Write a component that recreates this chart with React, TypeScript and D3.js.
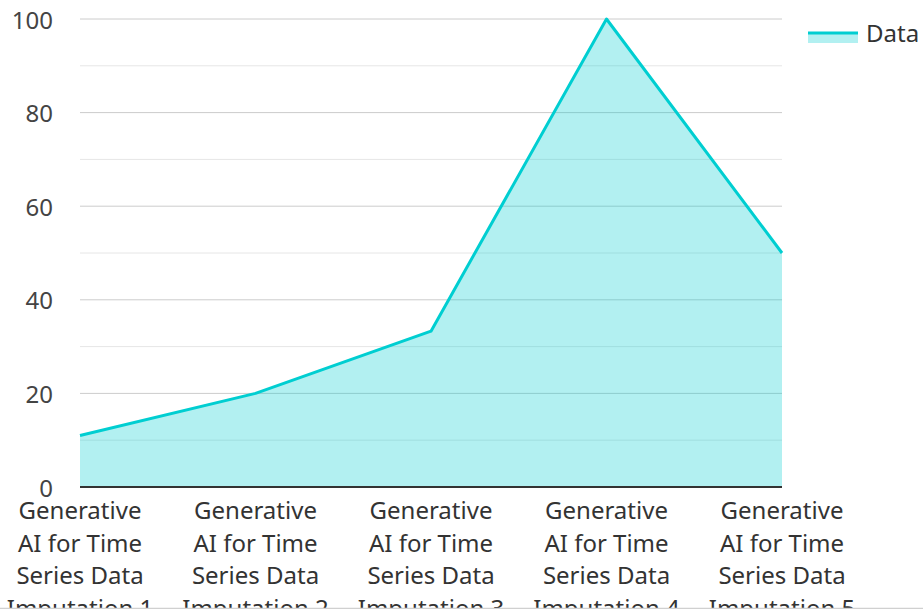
import React from "react";
import * as d3 from "d3";

const categories = [
  "Generative AI for Time Series Data Imputation 1",
  "Generative AI for Time Series Data Imputation 2",
  "Generative AI for Time Series Data Imputation 3",
  "Generative AI for Time Series Data Imputation 4",
  "Generative AI for Time Series Data Imputation 5",
];
const labelLines = [
  ["Generative", "AI for Time", "Series Data", "Imputation 1"],
  ["Generative", "AI for Time", "Series Data", "Imputation 2"],
  ["Generative", "AI for Time", "Series Data", "Imputation 3"],
  ["Generative", "AI for Time", "Series Data", "Imputation 4"],
  ["Generative", "AI for Time", "Series Data", "Imputation 5"],
];
const values = [11, 20, 33.3, 100, 50];
const majorTicks = [0, 20, 40, 60, 80, 100];
const minorTicks = [10, 30, 50, 70, 90];
const seriesName = "Data";

const W = 923;
const H = 609;
const left = 80;
const right = 782;
const top = 19;
const bottom = 487;
const color = "#00CED1";
const font = "'Noto Sans', 'Open Sans', sans-serif";

export default function App() {
  const x = d3.scalePoint<number>().domain(d3.range(categories.length)).range([left, right]);
  const y = d3.scaleLinear().domain([0, 100]).range([bottom, top]);
  const line = d3.line<number>().x((_, i) => x(i)!).y((d) => y(d));
  const area = d3.area<number>().x((_, i) => x(i)!).y0(y(0)).y1((d) => y(d));
  return (
    <svg
      width={W}
      height={H}
      style={{ position: "absolute", left: 0, top: 0, overflow: "hidden", fontFamily: font }}
    >
      {minorTicks.map((t) => (
        <line key={"m" + t} x1={left} x2={right} y1={y(t)} y2={y(t)} stroke="#e6e6e6" strokeWidth={1} />
      ))}
      {majorTicks.map((t) => (
        <line key={"M" + t} x1={left} x2={right} y1={y(t)} y2={y(t)} stroke="#cccccc" strokeWidth={1} />
      ))}
      <path d={area(values)!} fill={color} fillOpacity={0.3} />
      <path d={line(values)!} fill="none" stroke={color} strokeWidth={3} strokeLinejoin="round" />
      <line x1={left} x2={right} y1={bottom} y2={bottom} stroke="#333" strokeWidth={2} />
      {majorTicks.map((t) => (
        <text key={"t" + t} x={53} y={y(t)} textAnchor="end" dominantBaseline="central" fontSize={24} fill="#444">
          {t}
        </text>
      ))}
      {categories.map((c, i) => (
        <text key={c} x={x(i)!} textAnchor="middle" fontSize={24} fill="#333">
          {labelLines[i].map((l, j) => (
            <tspan key={j} x={x(i)!} y={519 + j * 32.5}>
              {l}
            </tspan>
          ))}
        </text>
      ))}
      <rect x={808} y={34} width={50} height={9} fill={color} fillOpacity={0.3} />
      <line x1={808} x2={858} y1={33} y2={33} stroke={color} strokeWidth={3} />
      <text x={866} y={32} dominantBaseline="central" fontSize={24} fill="#333">
        {seriesName}
      </text>
      <line x1={0} x2={W} y1={608.5} y2={608.5} stroke="#d0d0d0" strokeWidth={1.5} />
    </svg>
  );
}
